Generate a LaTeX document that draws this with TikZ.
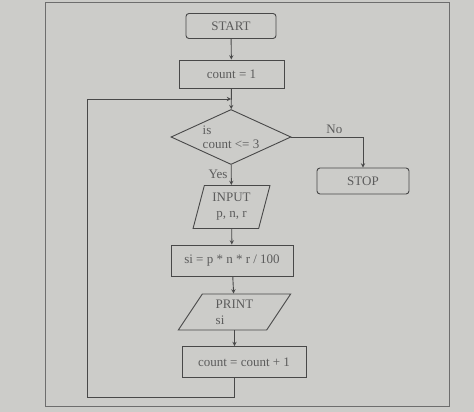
\documentclass[tikz,border=0pt]{standalone}
\usepackage{fontspec}
\setmainfont{Liberation Serif}
\usetikzlibrary{arrows, shapes.geometric}

\definecolor{paper}{RGB}{204,204,201}
\definecolor{ink}{RGB}{72,72,72}
\definecolor{print}{RGB}{92,92,92}

\begin{document}
\begin{tikzpicture}[x=1pt, y=-1pt, ->, >=stealth, line width=0.9pt, draw=ink, text=print,
    font=\fontsize{13}{14}\selectfont,
    term/.style={draw=ink, rounded corners=3pt, minimum width=90pt, minimum height=25pt},
    proc/.style={draw=ink, rectangle, minimum height=30pt},
    dec/.style={draw=ink, diamond, aspect=2.2, minimum width=120pt, minimum height=55pt, inner sep=-3pt},
    io/.style={draw=ink, trapezium, trapezium stretches=true, trapezium left angle=#1, trapezium right angle=180-#1, inner sep=1pt, font=\fontsize{13}{16}\selectfont}]

			% page and frame
			\fill[paper] (0,0) rectangle (474,412);
			\draw[-, ink!80] (45,2) rectangle (449,406);

			\node[term] (start) at (231,26) {START};
			\node[proc, minimum width=105pt, minimum height=28pt] (init) at (231.5,74) {count = 1};
			\node[dec, align=left] (test) at (231,137) {is\\count <= 3};
			\node[term, minimum width=92pt, minimum height=26pt] (stop) at (363,181) {STOP};
			\node[io=74, minimum width=77pt, minimum height=43pt, align=center] (input) at (231.5,207) {INPUT\\p, n, r};
			\node[proc, minimum width=122pt, minimum height=31pt] (calc) at (232,260.5) {si = p * n * r / 100};
			\node[io=61, minimum width=113pt, minimum height=36pt, align=left] (print) at (234.5,312) {PRINT\\si};
			\node[proc, minimum width=124pt, minimum height=31pt] (incr) at (244,362) {count = count + 1};

			\coordinate (loopL) at (87,397);
			\coordinate (merge) at (231,99);

			\path
			(start) edge (init)
			(init) edge (test)
			(test) edge node[left, pos=0.45] {Yes} (input)
			(input) edge (calc)
			(calc) edge (print);
			\draw (print.south) -- (print.south |- incr.north);
			\draw (test.east) -| node[pos=0.3, above] {No} (stop.north);
			\draw (incr.south -| print.south) |- (loopL) |- (merge);

\end{tikzpicture}
\end{document}
